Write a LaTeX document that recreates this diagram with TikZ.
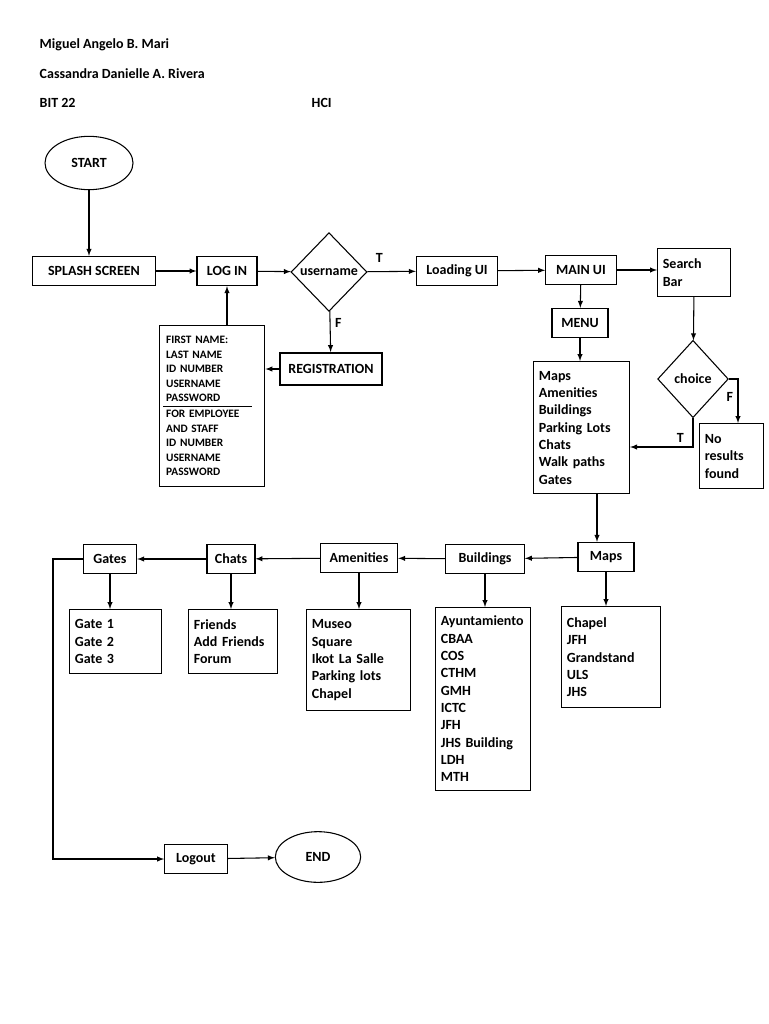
\documentclass[tikz,border=0pt]{standalone}
\usepackage{fontspec}
\setmainfont{Carlito}
\usetikzlibrary{shapes.geometric}
\begin{document}
\begin{tikzpicture}[x=0.75pt,y=-0.75pt,
    box/.style={draw,thick,font=\fontsize{10.5}{13}\selectfont\bfseries,inner sep=0pt},
    lst/.style={draw,thick,font=\fontsize{10.5}{13}\selectfont\bfseries,align=left,anchor=north west,inner sep=0pt},
    dec/.style={draw,thick,diamond,inner sep=0pt,font=\fontsize{10.5}{13}\selectfont\bfseries},
    arr/.style={thick,-latex},
    lbl/.style={font=\fontsize{10.5}{13}\selectfont\bfseries}]
  \useasboundingbox (0,0) rectangle (768,1024);

  \node[anchor=west,lbl] at (35,45) {Miguel Angelo B. Mari};
  \node[anchor=west,lbl] at (35,74) {Cassandra Danielle A. Rivera};
  \node[anchor=west,lbl] at (35,103) {BIT 22};
  \node[anchor=west,lbl] at (307,103) {HCI};

  \node[box,ellipse,minimum width=66pt,minimum height=40pt] (start) at (89,163) {START};
  \node[box,minimum width=92pt,minimum height=22pt] (splash) at (94,271) {SPLASH SCREEN};
  \node[box,minimum width=45pt,minimum height=22pt] (login) at (227,271) {LOG IN};
  \node[dec,minimum width=57pt,minimum height=59pt] (user) at (329,272) {username};
  \node[box,line width=1.4pt,minimum width=76pt,minimum height=24pt] (reg) at (331,369) {REGISTRATION};
  \node[lst,minimum width=75pt,minimum height=121pt,font=\fontsize{8.5}{10.9}\selectfont\bfseries,
        text width=69pt,inner xsep=5pt,inner ysep=3pt] (info) at (159,325)
    {FIRST NAME:\\LAST NAME\\ID NUMBER\\USERNAME\\PASSWORD\\[1pt]
     FOR EMPLOYEE\\AND STAFF\\ID NUMBER\\USERNAME\\PASSWORD};
  \draw (163,406) -- (252,406);
  \node[box,minimum width=61pt,minimum height=22pt] (load) at (457,271) {Loading UI};
  \node[box,minimum width=53pt,minimum height=22pt] (main) at (581,270) {MAIN UI};
  \node[box,minimum width=55pt,minimum height=36pt,align=left,anchor=north west,
        text width=47pt,inner xsep=4pt,inner ysep=3pt] (search) at (657,248) {Search\\Bar};
  \node[box,minimum width=42pt,minimum height=22pt] (menu) at (580,323) {MENU};
  \node[lst,minimum width=72pt,minimum height=99pt,text width=64pt,inner xsep=4pt,inner ysep=3pt] (mlist) at (533,361)
    {Maps\\Amenities\\Buildings\\Parking Lots\\Chats\\Walk paths\\Gates};
  \node[dec,minimum width=53pt,minimum height=58pt] (choice) at (693,379) {choice};
  \node[lst,minimum width=47pt,minimum height=49pt,text width=40pt,inner xsep=4pt,inner ysep=3pt] (nores) at (699,423)
    {No\\results\\found};

  \node[box,minimum width=42pt,minimum height=22pt] (maps) at (606,557) {Maps};
  \node[box,minimum width=59pt,minimum height=22pt] (bldg) at (485,559) {Buildings};
  \node[box,minimum width=58pt,minimum height=22pt] (amen) at (359,558) {Amenities};
  \node[box,minimum width=36pt,minimum height=22pt] (chats) at (231,559) {Chats};
  \node[box,minimum width=40pt,minimum height=22pt] (gates) at (110,559) {Gates};

  \node[lst,minimum width=69pt,minimum height=48pt,text width=61pt,inner xsep=4pt,inner ysep=3pt] (glist) at (69,609)
    {Gate 1\\Gate 2\\Gate 3};
  \node[lst,minimum width=67pt,minimum height=48pt,text width=59pt,inner xsep=4pt,inner ysep=3pt] (clist) at (188,609)
    {Friends\\Add Friends\\Forum};
  \node[lst,minimum width=78pt,minimum height=76pt,text width=70pt,inner xsep=4pt,inner ysep=3pt] (alist) at (306,609)
    {Museo\\Square\\Ikot La Salle\\Parking lots\\Chapel};
  \node[lst,minimum width=71pt,minimum height=137pt,text width=63pt,inner xsep=4pt,inner ysep=3pt] (blist) at (435,607)
    {Ayuntamiento\\CBAA\\COS\\CTHM\\GMH\\ICTC\\JFH\\JHS Building\\LDH\\MTH};
  \node[lst,minimum width=74pt,minimum height=76pt,text width=66pt,inner xsep=4pt,inner ysep=3pt] (plist) at (561,606)
    {Chapel\\JFH\\Grandstand\\ULS\\JHS};

  \node[box,minimum width=47pt,minimum height=22pt] (logout) at (196,859) {Logout};
  \node[box,ellipse,minimum width=64pt,minimum height=38pt] (end) at (318,857) {END};

  \draw[arr] (start) -- (splash.north -| start);
  \draw[arr] (splash) -- (login);
  \draw[arr] (login) -- (user);
  \draw[arr] (user) -- node[lbl,above,pos=0.25,yshift=3pt] {T} (load);
  \draw[arr] (user) -- node[lbl,right,pos=0.3] {F} (reg);
  \draw[arr] (reg) -- (reg.west -| info.east);
  \draw[arr] (info.north -| login) -- (login);
  \draw[arr] (load) -- (main);
  \draw[arr] (main) -- (search.west |- main);
  \draw[arr] (main) -- (menu);
  \draw[arr] (menu) -- (menu |- mlist.north);
  \draw[arr] (search) -- (choice);
  \coordinate (tc) at (693,447);
  \draw[arr] (choice.south) -- (tc) -- node[lbl,above,pos=0.2] {T} (tc -| mlist.east);
  \coordinate (fc) at (738,379);
  \draw[arr] (choice.east) -- (fc) -- node[lbl,left,pos=0.4] {F} (fc |- nores.north);
  \draw[arr] (597,493) -- (maps.north -| 597,0);
  \draw[arr] (maps) -- (bldg);
  \draw[arr] (bldg) -- (amen);
  \draw[arr] (amen) -- (chats);
  \draw[arr] (chats) -- (gates);
  \draw[arr] (maps.south -| 606,0) -- (plist.north -| 606,0);
  \draw[arr] (bldg) -- (bldg |- blist.north);
  \draw[arr] (amen) -- (amen |- alist.north);
  \draw[arr] (chats) -- (chats |- clist.north);
  \draw[arr] (gates) -- (gates |- glist.north);
  \coordinate (gl) at (53,559);
  \draw[arr] (gates) -- (gl) -- (gl |- logout) -- (logout);
  \draw[arr] (logout) -- (end);
\end{tikzpicture}
\end{document}
